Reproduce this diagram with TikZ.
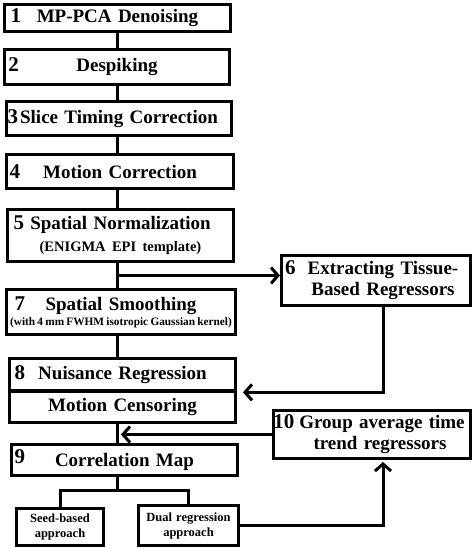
\documentclass[tikz,border=0pt]{standalone}
\usepackage{fontspec}
\setmainfont{Liberation Serif}
\usetikzlibrary{arrows.meta,calc}

\newcommand{\stagenum}[1]{{\fontsize{21}{21}\selectfont #1}}
\newcommand{\stagetitle}[3][4pt]{\rlap{\hspace{#1}\stagenum{#2}}\hfill #3\hfill\null}

\tikzset{
  stage/.style={draw, line width=3pt, inner xsep=0pt, inner ysep=1pt,
    align=center, font=\fontsize{19}{21}\selectfont\bfseries},
  boxsize/.style 2 args={minimum width=#1, text width=#1, minimum height=#2},
  approach/.style={stage, line width=2.6pt, font=\fontsize{12.5}{15}\selectfont\bfseries},
  link/.style={line width=3pt},
  flow/.style={line width=3pt, -{Straight Barb[length=7pt,width=16pt]}},
}

\begin{document}
\begin{tikzpicture}[x=1pt, y=-1pt]
\useasboundingbox (0,0) rectangle (474,549);

% pipeline
\node[stage, boxsize={226pt}{27pt}] (denoise) at (117.5,18)
  {\stagetitle[6pt]{1}{MP-PCA Denoising}};
\node[stage, boxsize={225pt}{35pt}] (despike) at (117,67)
  {\stagetitle[4pt]{2}{Despiking}};
\node[stage, boxsize={225pt}{34pt}] (slicetime) at (119,118.5)
  {\stagetitle[1pt]{3}{Slice Timing Correction}};
\node[stage, boxsize={227pt}{34pt}] (motion) at (120,171.5)
  {\stagetitle[3pt]{4}{Motion Correction}};
\node[stage, boxsize={226pt}{52pt}] (normalize) at (120.5,235.5)
  {\stagetitle[6pt]{5}{Spatial Normalization}\\[1pt]
   {\fontsize{14.5}{16}\selectfont (ENIGMA EPI template)}};
\node[stage, boxsize={229pt}{45pt}] (smooth) at (121,312)
  {\stagetitle[8pt]{7}{Spatial Smoothing}\\[-6pt]
   \mbox{\fontsize{11.3}{12}\selectfont\spaceskip=0.2em
     (with 4 mm FWHM isotropic Gaussian kernel)}};
\node[stage, boxsize={226pt}{32.5pt}] (nuisance) at (122.5,374.6)
  {\stagetitle[5pt]{8}{Nuisance Regression}};
\node[stage, boxsize={226pt}{31.5pt}] (censor) at (122.5,406.9)
  {Motion Censoring};
\node[stage, boxsize={226pt}{31pt}] (corr) at (124.5,460)
  {\stagetitle[3pt]{\raisebox{3pt}{9}}{Correlation Map}};

% side boxes
\node[stage, boxsize={189pt}{50pt}] (tissue) at (376,280.5)
  {\hspace*{14pt}\llap{\stagenum{6}\hspace{12pt}}Extracting Tissue-\\
   \hspace*{14pt}Based Regressors};
\node[stage, boxsize={197pt}{48pt}] (group) at (372,434.5)
  {\hspace*{20pt}\llap{\stagenum{10}\hspace{5pt}}Group average time\\
   \hspace*{16pt}trend regressors};

\node[approach, boxsize={87pt}{37pt}] (seed) at (60,527)
  {Seed-based\\approach};
\node[approach, boxsize={100pt}{40pt}] (dual) at (188.5,525.5)
  {Dual regression\\approach};

% trunk
\coordinate (trunk) at (117,0);
\draw[link] (trunk |- denoise.south) -- (trunk |- despike.north);
\draw[link] (trunk |- despike.south) -- (trunk |- slicetime.north);
\draw[link] (trunk |- slicetime.south) -- (trunk |- motion.north);
\draw[link] (trunk |- motion.south) -- (trunk |- normalize.north);
\draw[link] (trunk |- normalize.south) -- (trunk |- smooth.north);
\draw[link] (trunk |- smooth.south) -- (trunk |- nuisance.north);
\draw[link] (trunk |- censor.south) -- (trunk |- corr.north);

% regressors
\coordinate (branch) at ($(normalize.south)!0.5!(smooth.north)$);
\draw[flow] (trunk |- branch) -- (branch -| tissue.west);
\draw[flow] ([xshift=7]tissue.south) |- ([xshift=6]nuisance.south east);
\draw[flow, shorten >=4pt] (group.west) -- (trunk |- group.west);

% approaches
\draw[link] (trunk |- corr.south) -- ++(0,13) coordinate (split);
\draw[link] (seed.north) |- (split) -| (dual.north);
\draw[flow, shorten >=2pt] (dual.east) -| ([xshift=11]group.south);

\end{tikzpicture}
\end{document}
